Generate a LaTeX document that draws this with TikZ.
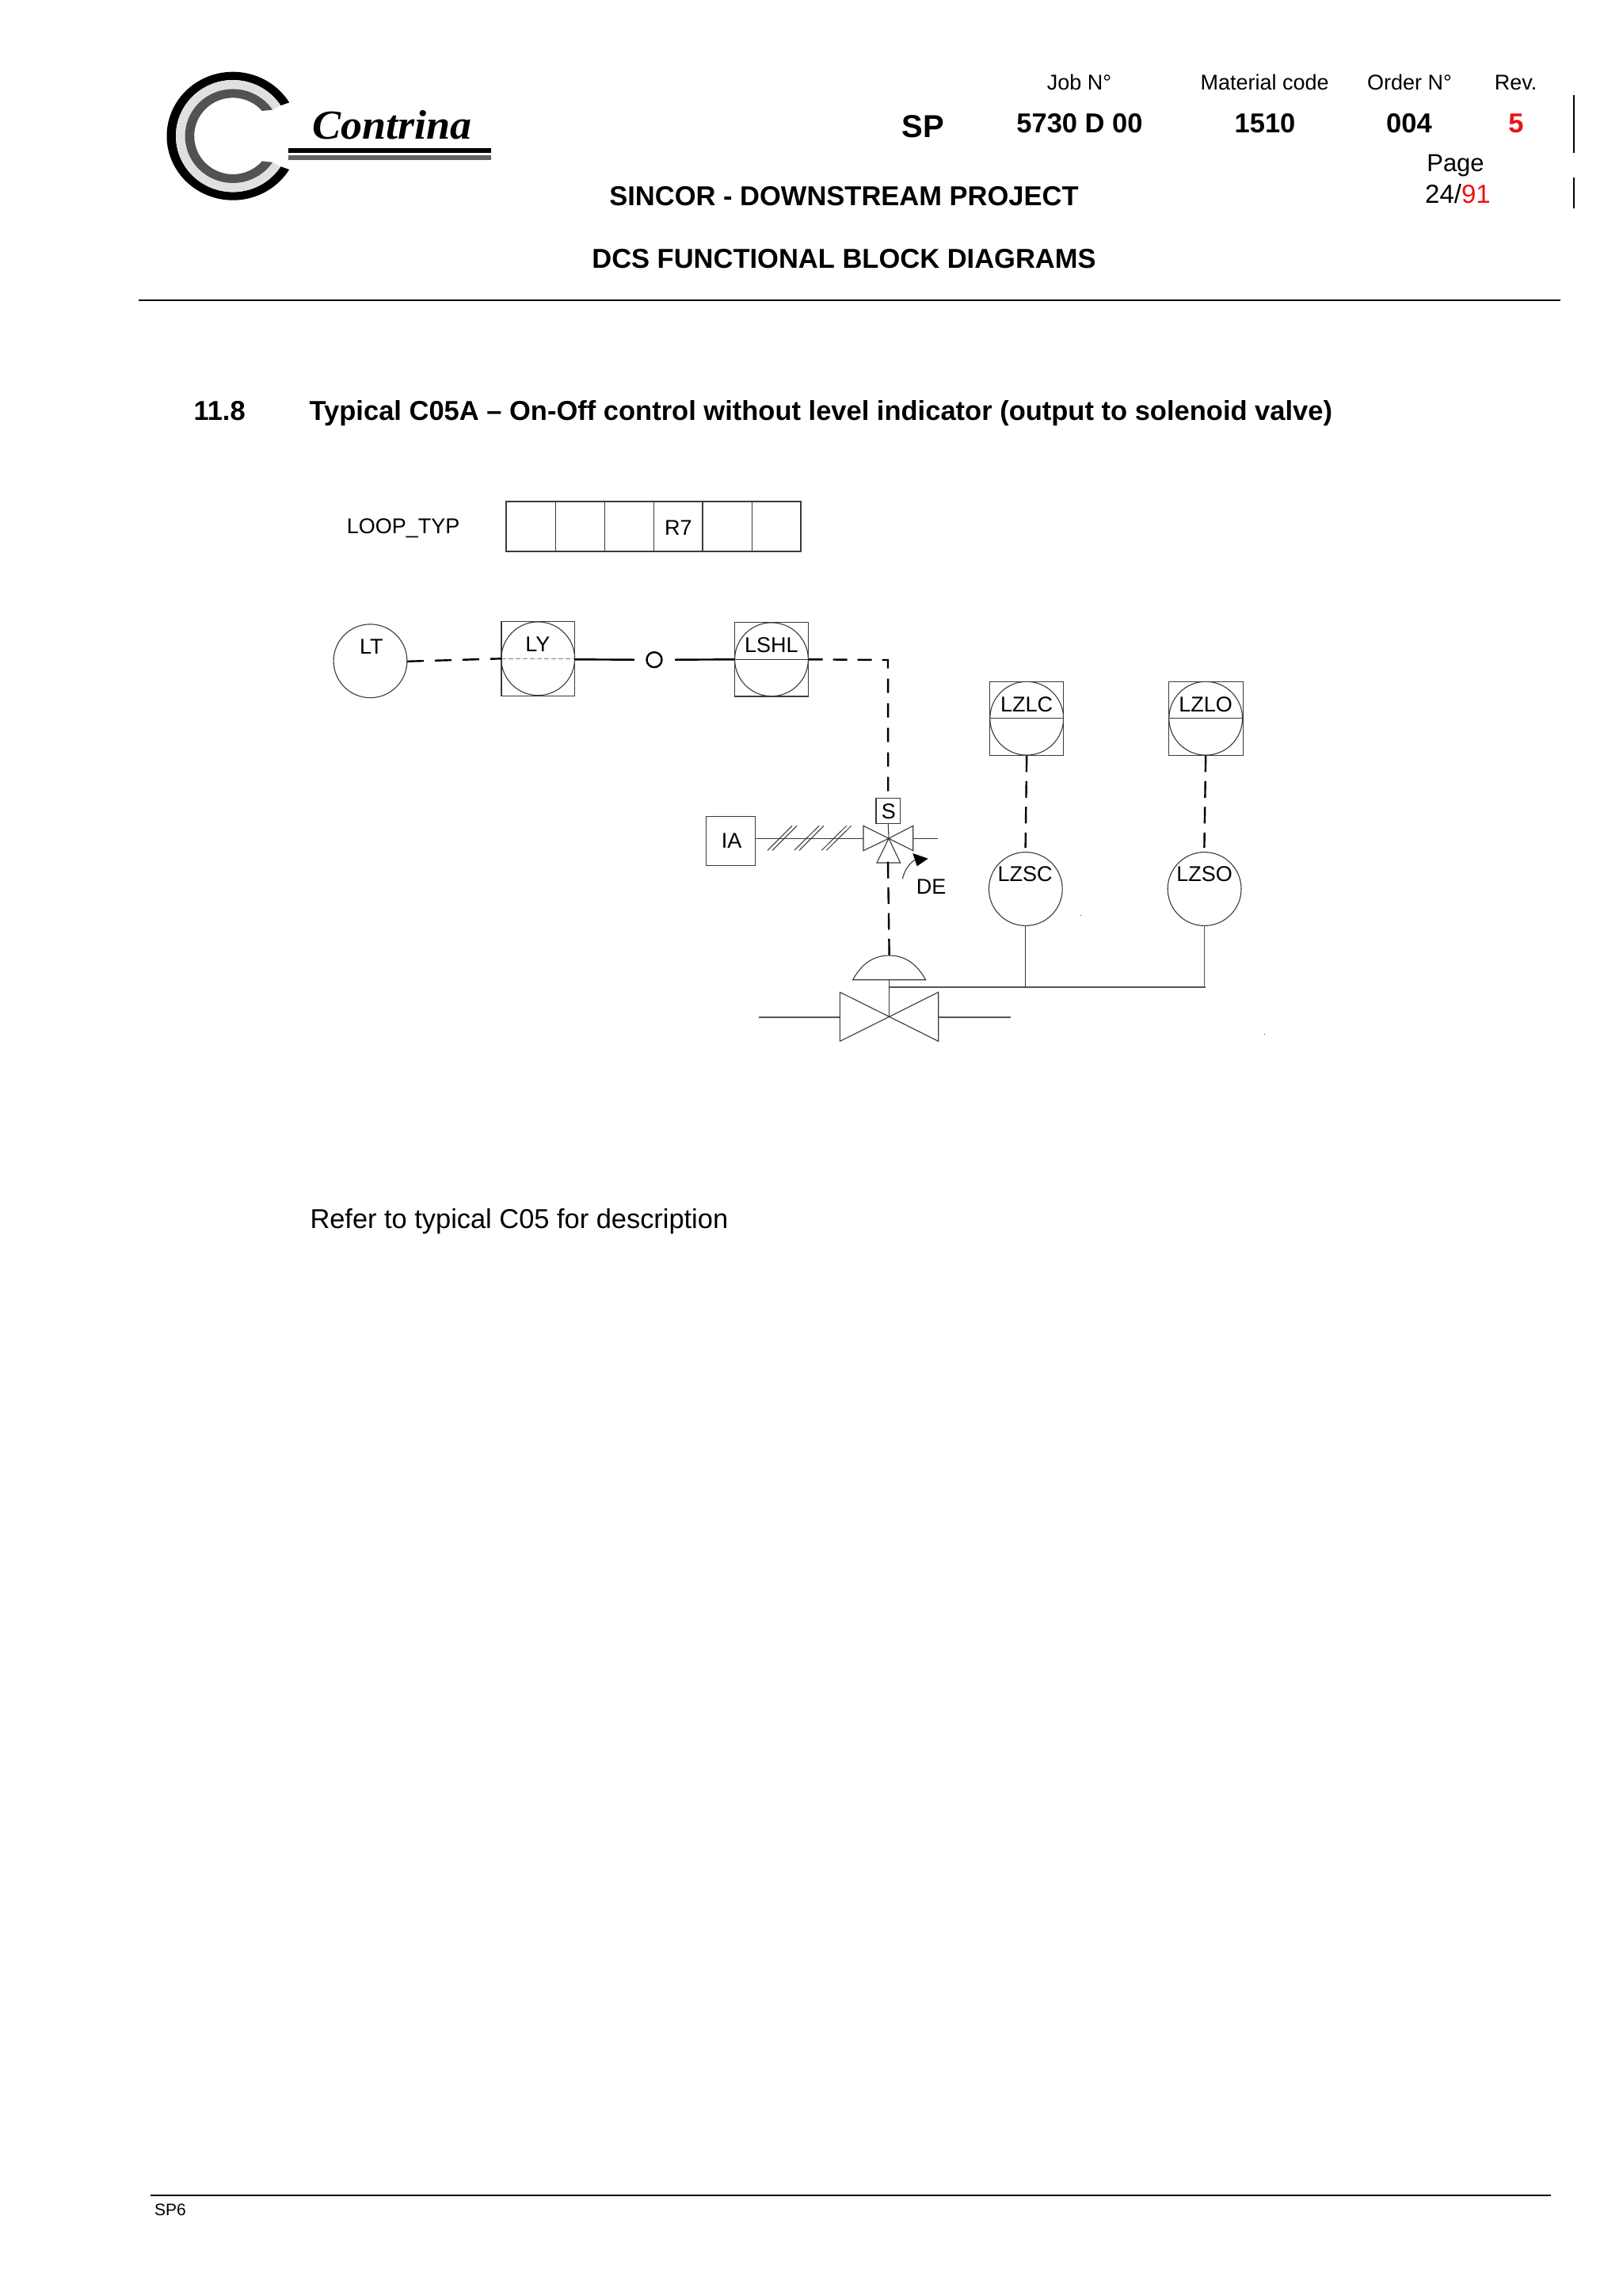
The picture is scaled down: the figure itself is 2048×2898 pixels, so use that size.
\documentclass[tikz,border=0pt]{standalone}
\usepackage{fontspec}
\usepackage{graphicx}
\setmainfont{Liberation Sans}
\newfontfamily\logofont{Liberation Serif}[BoldItalicFont={* Bold Italic}]
\newcommand{\fsz}[1]{\fontsize{#1}{#1}\selectfont}
\definecolor{ink}{HTML}{3A3A3A}
\definecolor{pipe}{HTML}{555555}
\definecolor{redrev}{HTML}{EE1111}
\tikzset{
  x=1pt,y=1pt,
  txt/.style={inner sep=0,outer sep=0,anchor=base,text=black},
  lbl/.style={txt,font=\fsz{27},xshift=.8pt,yshift=-1pt},
  smalltxt/.style={txt,font=\fsz{27},xshift=.6pt},
  boldtxt/.style={txt,font=\fsz{34.5}\bfseries},
  inst/.style={circle,draw=ink,line width=1.1pt,minimum size=92.8pt,inner sep=0,outer sep=0},
  ibox/.style={rectangle,draw=ink,line width=1.1pt,inner sep=0,outer sep=0},
  thin line/.style={draw=ink,line width=1.1pt},
  pipeline/.style={draw=pipe,line width=1.6pt},
  sig/.style={draw=black,line width=2.4pt,dash pattern=on 21pt off 11.5pt},
  solidsig/.style={draw=black,line width=2.4pt},
  innerdash/.style={draw=gray,line width=1.2pt,dash pattern=on 6pt off 3pt},
  valve/.style={draw=ink,line width=1.1pt,fill=white,line join=miter},
  hairline/.style={draw=black,line width=2.4pt},
}
\newcommand{\ring}[7]{% colour, rx1, ry1, rx2, ry2, ang1, ang2
  \fill[#1] ({294+#2*cos(#6)},{-171.7+#3*sin(#6)})
    arc[start angle=#6,end angle={360-#6},x radius=#2,y radius=#3]
    -- ({294+#4*cos(#7)},{-171.7-#5*sin(#7)})
    arc[start angle={360-#7},end angle=#7,x radius=#4,y radius=#5] -- cycle;}
\begin{document}
\begin{tikzpicture}
\useasboundingbox (0,0) rectangle (2048,-2898);
\fill[white] (0,0) rectangle (2048,-2898);

% logo
\ring{black}{83.5}{81}{72}{70.7}{31.5}{33}
\ring{black!12}{72}{70.7}{60.4}{59.3}{33}{34}
\ring{black!68}{60.4}{59.3}{48.8}{48.3}{34}{41}
\node[txt,anchor=base west] (logotext) at (394,-175.5) {\scalebox{1.04}[1]{\logofont\fsz{52}\bfseries\itshape Contrina}};
\fill[black] (364,-187.3) rectangle (620,-192.7);
\fill[black!62] (364,-195.7) rectangle (620,-201.7);

% header
\node[smalltxt] (job) at (1362,-114) {Job N°};
\node[smalltxt] (mat) at (1596,-114) {Material code};
\node[smalltxt] (ord) at (1779,-114) {Order N°};
\node[smalltxt] (rev) at (1913,-114) {Rev.};
\node[txt,font=\fsz{40}\bfseries] (sp) at (1165.5,-173.5) {SP};
\node[boldtxt] (jobv) at (1363,-168) {5730 D 00};
\node[boldtxt] (matv) at (1597,-168) {1510};
\node[boldtxt] (ordv) at (1779,-168) {004};
\node[boldtxt,text=redrev] (revv) at (1914,-168) {5};
\node[txt,font=\fsz{31}] (page) at (1837.5,-216) {Page};
\node[txt,font=\fsz{33}] (pagen) at (1840.5,-256) {24/\textcolor{redrev}{91}};
\node[boldtxt] (proj) at (1065.5,-259) {SINCOR - DOWNSTREAM PROJECT};
\node[boldtxt] (dcs) at (1065.5,-338) {DCS FUNCTIONAL BLOCK DIAGRAMS};
\draw[black,line width=2pt] (1987,-120) -- (1987,-193);
\draw[black,line width=2pt] (1987,-224) -- (1987,-263);
\draw[hairline] (175,-379) -- (1970,-379);

% section title
\node[boldtxt,anchor=base west] (secn) at (244.5,-530.5) {11.8};
\node[boldtxt,anchor=base west] (sect) at (390.7,-530.5) {Typical C05A – On-Off control without level indicator (output to solenoid valve)};

% loop type
\node[lbl,anchor=base west] (loop) at (437,-672) {LOOP\_TYP};
\draw[thin line] (639,-633) rectangle (1011,-696);
\foreach \x in {701.4,763.6,825.4,887,949.3} \draw[thin line] (\x,-633) -- (\x,-696);
\node[lbl] (r7) at (855.5,-674) {R7};

% instruments
\node[inst] (lt) at (467.5,-834.3) {};
\node[lbl] at (468,-824) {LT};

\node[ibox,minimum width=92.4pt,minimum height=94pt] (lybox) at (679.2,-831.3) {};
\node[inst] (ly) at (679.2,-831.3) {};
\node[lbl] at (678,-821.7) {LY};
\draw[innerdash] (ly.west) -- (ly.east);

\node[ibox,minimum width=93.3pt,minimum height=93.3pt] (lshlbox) at (974,-832.3) {};
\node[inst] (lshl) at (974,-832.3) {};
\node[lbl] at (973,-822.7) {LSHL};
\draw[thin line] (lshl.west) -- (lshl.east);

\node[ibox,minimum width=93pt,minimum height=93.3pt] (lzlcbox) at (1296.2,-906.7) {};
\node[inst] (lzlc) at (1296.2,-906.7) {};
\node[lbl] at (1295.3,-897.3) {LZLC};
\draw[thin line] (lzlc.west) -- (lzlc.east);

\node[ibox,minimum width=93.7pt,minimum height=93.3pt] (lzlobox) at (1522.2,-906.7) {};
\node[inst] (lzlo) at (1522.2,-906.7) {};
\node[lbl] at (1521.3,-897.3) {LZLO};
\draw[thin line] (lzlo.west) -- (lzlo.east);

\node[inst] (lzsc) at (1294.8,-1122) {};
\node[lbl] at (1293.3,-1111.7) {LZSC};
\node[inst] (lzso) at (1520.6,-1122) {};
\node[lbl] at (1519.7,-1111.7) {LZSO};

% small O junction
\node[circle,draw=black,line width=2.4pt,minimum size=19pt,inner sep=0,outer sep=0] (oo) at (826,-832.7) {};
\coordinate (ooL) at (801,-832.7);
\coordinate (ooR) at (852,-832.7);

% valve geometry
\coordinate (sv) at (1122,-1058.3);
\coordinate (cv) at (1122.7,-1283.3);
\node[ibox,minimum width=30.7pt,minimum height=31.6pt] (sbox) at (1121.3,-1023.5) {};
\node[lbl] at (1121,-1032) {S};
\node[ibox,minimum width=62pt,minimum height=62pt] (ia) at (922.3,-1061.3) {};
\node[lbl] at (922.7,-1069) {IA};

% connectors
\draw[sig,dash pattern=on 21pt off 14pt] (lt.east) ++(0,-.5) -- (lybox.west);
\draw[solidsig] (lybox.east) ++(0,-1) -- (ooL);
\draw[solidsig] (ooR) -- (lshlbox.west);
\coordinate (corner) at (1121,-833);
\draw[sig,dash pattern=on 18pt off 13pt] (lshlbox.east) -- (corner) -- (sbox.north);
\draw[sig] (lzlcbox.south) -- (1294.6,-1070);
\draw[sig] (lzlobox.south) -- (1520.4,-1070);

% 3-way solenoid valve
\draw[thin line] (sbox.south) -- (sv);
\draw[thin line] (ia.east |- sv) -- (1090,-1058.3);
\foreach \a/\b in {327/420,345/438,428/522,447/540,532/626,550/644}
  \draw[draw=ink,line width=1pt] ({860+\a/3},{-980-280/3}) -- ({860+\b/3},{-980-187/3});
\draw[valve] (1090,-1042.3) -- (1090,-1073.7) -- (sv) -- cycle;
\draw[valve] (1152.7,-1042.3) -- (1152.7,-1073.7) -- (sv) -- cycle;
\draw[valve] (sv) -- (1107,-1089) -- (1136.7,-1089) -- cycle;
\draw[thin line] (1152.7,-1058.3) -- (1184,-1058.3);

% main valve
\coordinate (act) at (1122.7,-1206);
\draw[sig] (1121,-1087.5) -- (act);
\draw[valve] (1076.7,-1236.7) .. controls (1088,-1216) and (1103,-1206) .. (act) .. controls (1142,-1206) and (1157,-1216) .. (1168.7,-1236.7) -- cycle;
\draw[thin line] (1122.7,-1236.7) -- (cv);
\draw[valve,fill=none] (1060.3,-1252.3) -- (1060.3,-1314.3) -- (cv) -- cycle;
\draw[valve,fill=none] (1184.7,-1252.3) -- (1184.7,-1314.3) -- (cv) -- cycle;
\draw[pipeline] (958.3,-1284) -- (1060.3,-1284);
\draw[pipeline] (1184.7,-1284) -- (1275.7,-1284);

% bus
\coordinate (bus1) at (1122.7,-1245.8);
\coordinate (bus3) at (1521.7,-1245.8);
\draw[pipeline] (bus1) -- (bus3);
\draw[thin line] (lzsc.south) -- (lzsc.south |- bus1);
\draw[pipeline] (lzso.south) -- (lzso.south |- bus1);

% DE flow arrow
\draw[thin line] (1139.3,-1109.3) .. controls (1143,-1095) and (1150,-1088) .. (1156,-1085);
\fill[black] (1152.3,-1077) -- (1171.7,-1083.7) -- (1157.7,-1093.3) -- cycle;
\node[lbl] (de) at (1174.7,-1127.3) {DE};

% specks
\fill[ink] (1364.2,-1154.7) rectangle (1365.4,-1155.5);
\fill[ink] (1595.5,-1304.7) rectangle (1596.7,-1305.5);

% text and footer
\node[txt,font=\fsz{34.4},anchor=base west] (refer) at (391.5,-1550.7) {Refer to typical C05 for description};
\draw[draw=black,line width=2.3pt] (190,-2771) -- (1958,-2771);
\node[txt,font=\fsz{21},anchor=base west] (sp6) at (195,-2796) {SP6};
\end{tikzpicture}
\end{document}
